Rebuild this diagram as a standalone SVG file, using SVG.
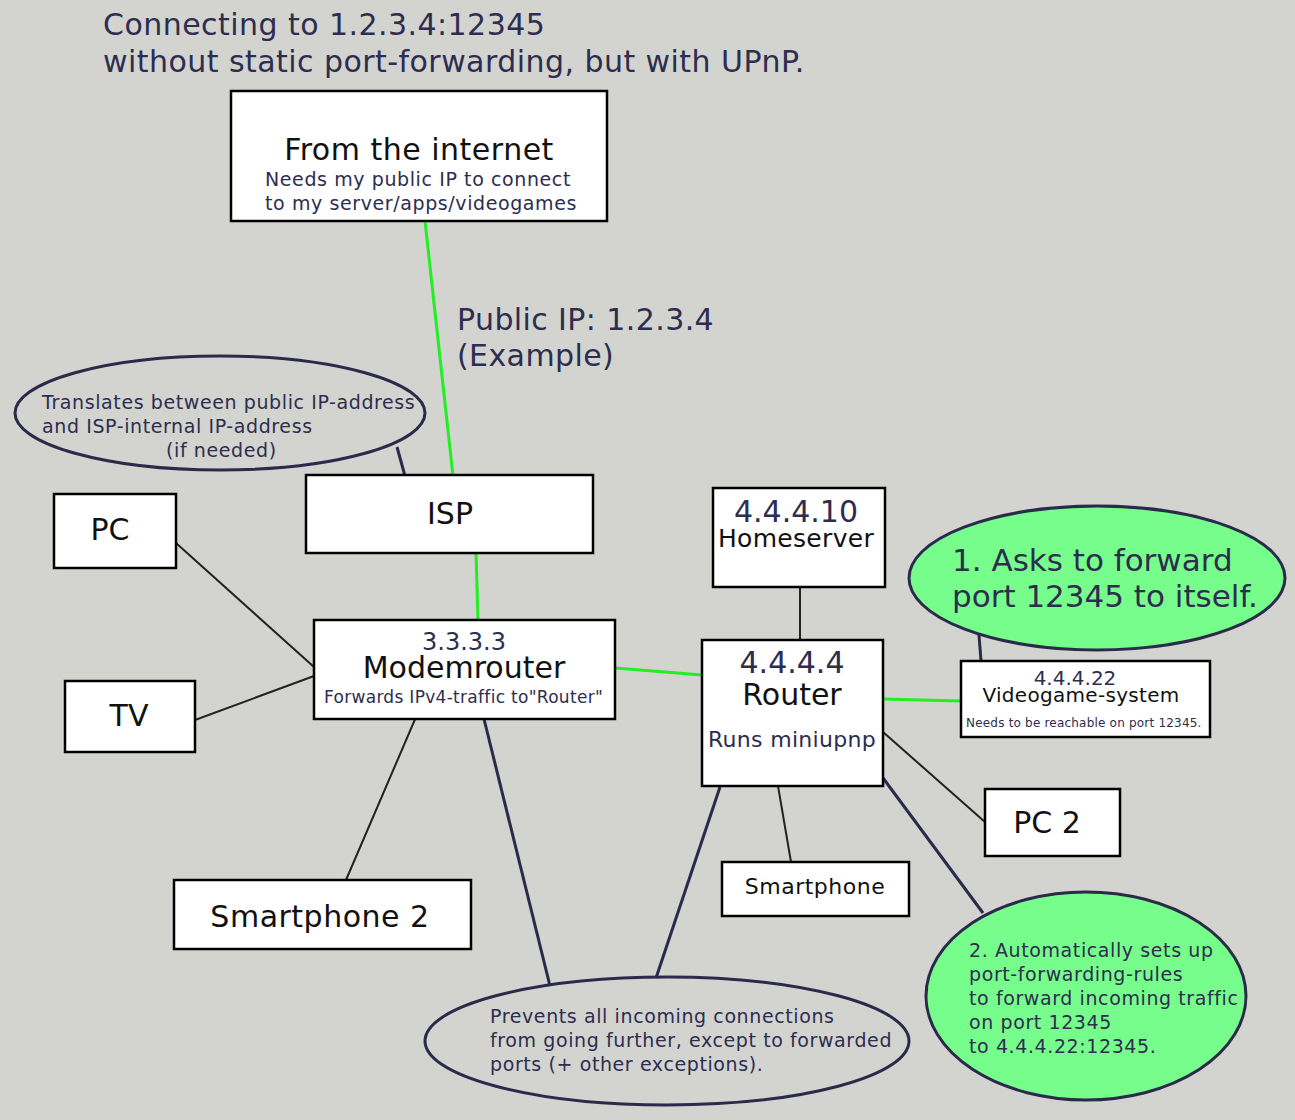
<svg xmlns="http://www.w3.org/2000/svg" width="1295" height="1120" viewBox="0 0 1295 1120">
<style>
text{font-family:"DejaVu Sans",sans-serif}
.box{fill:#fff;stroke:#000;stroke-width:2.5}
.t{fill:#111}
.n{fill:#2d2d4f}
.c{text-anchor:middle}
.s{letter-spacing:0.6px}
.g{stroke:#22ee22;stroke-width:3;fill:none}
.k{stroke:#222;stroke-width:2;fill:none}
.d{stroke:#2a2a4a;stroke-width:3;fill:none}
.e{fill:none;stroke:#2a2a4a;stroke-width:3}
.ge{fill:#77fd8c;stroke:#2a2a4a;stroke-width:3}
</style>
<rect width="1295" height="1120" fill="#d3d4d0"/>
<g id="title" class="n" font-size="30" letter-spacing="0.45"><text x="103" y="35">Connecting to 1.2.3.4:12345</text><text x="103" y="72">without static port-forwarding, but with UPnP.</text></g>
<g id="connectors">
<line class="g" x1="425" y1="221" x2="453" y2="476"/>
<line class="d" x1="397" y1="447" x2="405" y2="476"/>
<line class="g" x1="476" y1="553" x2="478" y2="620"/>
<line class="k" x1="176" y1="543" x2="314" y2="667"/>
<line class="k" x1="195" y1="720" x2="314" y2="676"/>
<line class="k" x1="346" y1="880" x2="416" y2="717"/>
<line class="d" x1="484" y1="719" x2="550" y2="986"/>
<line class="d" x1="656" y1="978" x2="720" y2="787"/>
<line class="g" x1="615" y1="668" x2="702" y2="675"/>
<line class="k" x1="800" y1="587" x2="800" y2="640"/>
<line class="d" x1="979" y1="635" x2="981" y2="661"/>
<line class="g" x1="883" y1="699" x2="961" y2="701"/>
<line class="k" x1="883" y1="732" x2="985" y2="822"/>
<line class="k" x1="778" y1="786" x2="791" y2="862"/>
<line class="d" x1="883" y1="778" x2="983" y2="913"/>
</g>
<g id="internet"><rect class="box" x="231" y="91" width="376" height="130"/><text class="t c" x="419" y="160" font-size="30" letter-spacing="0.5">From the internet</text><text class="n s" x="265" y="186" font-size="19">Needs my public IP to connect</text><text class="n s" x="265" y="210" font-size="19">to my server/apps/videogames</text></g>
<g id="publicip" class="n" font-size="30" letter-spacing="0.4"><text x="457" y="330">Public IP: 1.2.3.4</text><text x="457" y="366">(Example)</text></g>
<g id="translate"><ellipse class="e" cx="220" cy="413" rx="205" ry="57"/><g class="n s" font-size="19"><text x="42" y="409">Translates between public IP-address</text><text x="42" y="433">and ISP-internal IP-address</text><text x="166" y="457">(if needed)</text></g></g>
<g id="isp"><rect class="box" x="306" y="475" width="287" height="78"/><text class="t c" x="450" y="524" font-size="30">ISP</text></g>
<g id="modem"><rect class="box" x="314" y="620" width="301" height="99"/><text class="n c" x="464" y="650" font-size="24">3.3.3.3</text><text class="t c" x="464" y="678" font-size="30">Modemrouter</text><text class="n" x="324" y="703" font-size="17" letter-spacing="0.3">Forwards IPv4-traffic to"Router"</text></g>
<g id="pc"><rect class="box" x="54" y="494" width="122" height="74"/><text class="t c" x="110" y="540" font-size="30">PC</text></g>
<g id="tv"><rect class="box" x="65" y="681" width="130" height="71"/><text class="t c" x="129" y="726" font-size="30">TV</text></g>
<g id="sp2"><rect class="box" x="174" y="880" width="297" height="69"/><text class="t c" x="320" y="927" font-size="30" letter-spacing="0.5">Smartphone 2</text></g>
<g id="prevent"><ellipse class="e" cx="667" cy="1041" rx="242" ry="64"/><g class="n s" font-size="19"><text x="490" y="1023">Prevents all incoming connections</text><text x="490" y="1047">from going further, except to forwarded</text><text x="490" y="1071">ports (+ other exceptions).</text></g></g>
<g id="router"><rect class="box" x="702" y="640" width="181" height="146"/><text class="n c" x="792" y="673" font-size="30">4.4.4.4</text><text class="t c" x="792" y="705" font-size="30">Router</text><text class="n c" x="792" y="747" font-size="22" letter-spacing="0.3">Runs miniupnp</text></g>
<g id="homeserver"><rect class="box" x="713" y="488" width="172" height="99"/><text class="n c" x="796" y="522" font-size="30">4.4.4.10</text><text class="t c" x="796" y="547" font-size="25" letter-spacing="0.3">Homeserver</text></g>
<g id="ask"><ellipse class="ge" cx="1097" cy="578" rx="188" ry="72"/><g class="n" font-size="31"><text x="952" y="571">1. Asks to forward</text><text x="952" y="607">port 12345 to itself.</text></g></g>
<g id="videogame"><rect class="box" x="961" y="661" width="249" height="76"/><text class="n c" x="1075" y="685" font-size="20">4.4.4.22</text><text class="t c" x="1081" y="702" font-size="20" letter-spacing="0.3">Videogame-system</text><text class="n" x="966" y="727" font-size="12" letter-spacing="0.2">Needs to be reachable on port 12345.</text></g>
<g id="pc2"><rect class="box" x="985" y="789" width="135" height="67"/><text class="t c" x="1047" y="833" font-size="30">PC 2</text></g>
<g id="smartphone"><rect class="box" x="722" y="862" width="187" height="54"/><text class="t c" x="815" y="894" font-size="22" letter-spacing="0.5">Smartphone</text></g>
<g id="auto"><ellipse class="ge" cx="1086" cy="996" rx="160" ry="104"/><g class="n s" font-size="19"><text x="969" y="957">2. Automatically sets up</text><text x="969" y="981">port-forwarding-rules</text><text x="969" y="1005">to forward incoming traffic</text><text x="969" y="1029">on port 12345</text><text x="969" y="1053">to 4.4.4.22:12345.</text></g></g>
</svg>
